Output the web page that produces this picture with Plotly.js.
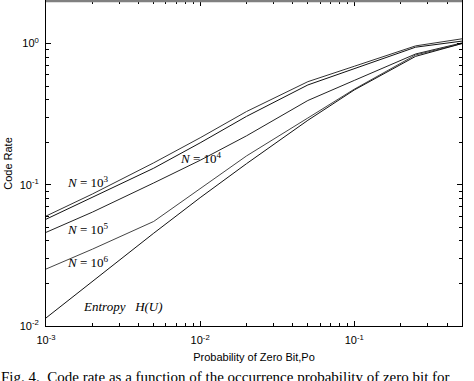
<!DOCTYPE html>
<html><head><meta charset="utf-8">
<script src="https://cdn.plot.ly/plotly-3.0.1.min.js"></script>
<style>html,body{margin:0;padding:0;background:#fff;}#chart{width:474px;height:381px;}</style>
</head><body><div id="chart"></div>
<script>
// Probability of zero bit (x) and code rates (y)
const probability = [0.001, 0.002, 0.005, 0.01, 0.02, 0.05, 0.1, 0.25, 0.5];
const rateN1e3 = [0.060, 0.086, 0.143, 0.215, 0.33, 0.537, 0.69, 0.962, 1.08];
const rateN1e4 = [0.057, 0.0815, 0.131, 0.198, 0.305, 0.509, 0.664, 0.942, 1.04];
const rateN1e5 = [0.046, 0.064, 0.103, 0.149, 0.222, 0.395, 0.548, 0.843, 1.01];
const rateN1e6 = [0.0253, 0.035, 0.055, 0.094, 0.16, 0.297, 0.475, 0.83, 1.0];
const entropyHU = [0.0114, 0.0208, 0.0454, 0.081, 0.141, 0.286, 0.469, 0.811, 1.0];

const seriesNames = ['N = 10^3', 'N = 10^4', 'N = 10^5', 'N = 10^6', 'Entropy H(U)'];
const seriesValues = [rateN1e3, rateN1e4, rateN1e5, rateN1e6, entropyHU];
const seriesColors = ['#333333', '#111111', '#222222', '#444444', '#111111'];

const xTickVals = [0.001, 0.01, 0.1];
const xTickText = ['10<sup>-3</sup>', '10<sup>-2</sup>', '10<sup>-1</sup>'];
const yTickVals = [0.01, 0.1, 1];
const yTickText = ['10<sup>-2</sup>', '10<sup>-1</sup>', '10<sup>0</sup>'];

// curve labels: text and (log10 x, log10 y) anchor
const labelTexts = [
  '<i>N</i> = 10<sup>3</sup>',
  '<i>N</i> = 10<sup>4</sup>',
  '<i>N</i> = 10<sup>5</sup>',
  '<i>N</i> = 10<sup>6</sup>',
  '<i>Entropy\u00a0\u00a0\u00a0H(U)</i>'
];
const labelLogX = [-2.727, -1.992, -2.727, -2.727, -2.499];
const labelLogY = [-0.98, -0.81, -1.313, -1.547, -1.865];

const captionText = 'Fig. 4.  Code rate as a function of the occurrence probability of zero bit for';

function minorTicks(lo, hi) {
  const v = [];
  for (let e = lo; e < hi; e++) for (let k = 2; k <= 9; k++) v.push(k * Math.pow(10, e));
  return v;
}

const traces = seriesValues.map((vals, i) => ({
  type: 'scatter', mode: 'lines', name: seriesNames[i],
  x: probability, y: vals,
  line: {color: seriesColors[i], width: 1},
  showlegend: false, hoverinfo: 'skip'
}));

const annotations = labelTexts.map((t, i) => ({
  text: t, x: labelLogX[i], y: labelLogY[i], xref: 'x', yref: 'y',
  showarrow: false, xanchor: 'center', yanchor: 'middle',
  font: {family: 'Liberation Serif, Times New Roman, serif', size: 13, color: '#000'}
}));
annotations.push({
  text: captionText, xref: 'paper', yref: 'paper', x: -0.113, y: -0.157,
  xanchor: 'left', yanchor: 'middle', showarrow: false,
  font: {family: 'Liberation Serif, Times New Roman, serif', size: 15, color: '#000'}
});

const axisCommon = {
  type: 'log', showgrid: false, zeroline: false,
  showline: true, linecolor: '#000', linewidth: 1, mirror: 'ticks',
  ticks: 'inside', ticklen: 5, tickcolor: '#000', tickwidth: 1,
  tickmode: 'array',
  tickfont: {family: 'Liberation Sans, Arial, sans-serif', size: 11, color: '#000'},
  ticklabelstandoff: 4
};

const layout = {
  width: 474, height: 381,
  margin: {l: 46, r: 12, t: 1, b: 55},
  paper_bgcolor: '#fff', plot_bgcolor: '#fff',
  showlegend: false,
  xaxis: Object.assign({}, axisCommon, {
    range: [-3, Math.log10(0.5)],
    tickvals: xTickVals, ticktext: xTickText,
    minor: {tickmode: 'array', tickvals: minorTicks(-3, 0), ticks: 'inside', ticklen: 3, tickcolor: '#000', showgrid: false},
    title: {text: 'Probability of Zero Bit,Po', standoff: 8,
      font: {family: 'Liberation Sans, Arial, sans-serif', size: 11, color: '#000'}}
  }),
  yaxis: Object.assign({}, axisCommon, {
    range: [-2, Math.log10(2)],
    tickvals: yTickVals, ticktext: yTickText,
    minor: {tickmode: 'array', tickvals: minorTicks(-2, 1), ticks: 'inside', ticklen: 3, tickcolor: '#000', showgrid: false},
    title: {text: 'Code Rate', standoff: 4,
      font: {family: 'Liberation Sans, Arial, sans-serif', size: 11, color: '#000'}}
  }),
  shapes: [{type: 'line', xref: 'paper', yref: 'paper', x0: 0, x1: 1, y0: 1, y1: 1,
    line: {color: '#808080', width: 2.5}}],
  annotations: annotations
};

Plotly.newPlot('chart', traces, layout, {staticPlot: true, displayModeBar: false});
</script>
</body></html>
